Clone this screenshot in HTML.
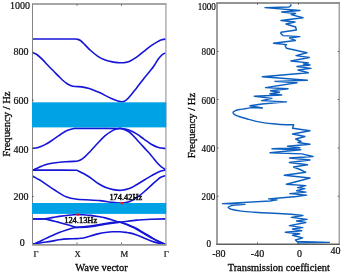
<!DOCTYPE html>
<html><head><meta charset="utf-8"><title>Band structure and transmission</title>
<style>
html,body{margin:0;padding:0;background:#fff;}
body{width:342px;height:275px;overflow:hidden;}
svg{display:block;}
text{font-family:"Liberation Serif","Times New Roman",serif;fill:#0a0a0a;stroke:#0a0a0a;stroke-width:0.18px;}
</style></head><body>
<svg width="342" height="275" viewBox="0 0 342 275">
<rect width="342" height="275" fill="#fff"/>
<g fill="none" stroke="#1515d8" stroke-width="1.6" stroke-linejoin="round">
<path d="M32.5 39.0C36.2 39.0 48.8 39.0 55.0 39.0C61.2 39.0 66.8 39.0 70.0 39.0C73.2 39.0 73.3 39.0 74.5 39.0C75.7 39.1 76.0 39.0 77.0 39.2C78.0 39.5 79.1 39.6 80.4 40.5C81.7 41.4 83.1 42.9 84.8 44.6C86.5 46.3 88.4 48.5 90.6 50.5C92.8 52.5 95.5 54.7 97.9 56.3C100.3 57.9 102.8 59.1 105.2 60.0C107.6 60.9 110.4 61.5 112.5 61.9C114.6 62.3 116.5 62.5 118.0 62.6C119.5 62.7 120.3 62.8 121.5 62.8C122.7 62.7 123.7 62.8 125.0 62.5C126.3 62.3 127.4 62.4 129.3 61.5C131.2 60.6 134.2 58.9 136.6 57.2C139.0 55.5 141.5 53.3 143.9 51.4C146.3 49.5 148.8 47.3 151.2 45.6C153.6 43.9 156.7 42.2 158.5 41.2C160.3 40.2 160.8 40.1 162.0 39.8C163.2 39.4 165.2 39.2 165.9 39.1"/>
<path d="M32.5 52.8C33.2 53.1 35.3 53.5 36.8 54.5C38.3 55.5 39.8 56.9 41.8 58.9C43.8 60.9 46.8 64.2 48.8 66.3C50.8 68.4 52.5 70.0 54.0 71.5C55.5 73.0 56.6 74.2 58.0 75.6C59.4 77.0 60.9 78.7 62.4 80.0C63.9 81.3 65.3 82.5 66.8 83.5C68.3 84.5 69.8 85.2 71.2 85.7C72.7 86.2 73.8 86.3 75.5 86.5C77.2 86.7 79.4 86.6 81.7 86.9C84.0 87.2 87.2 87.9 89.3 88.5C91.3 89.1 92.2 89.6 94.0 90.3C95.8 91.0 97.0 91.4 100.0 92.8C103.0 94.2 108.4 97.3 112.0 98.8C115.6 100.3 119.1 101.7 121.5 101.9C123.9 102.1 124.9 101.0 126.4 99.9C128.0 98.8 129.1 97.2 130.8 95.2C132.5 93.2 134.4 90.7 136.6 87.9C138.8 85.1 141.5 81.5 143.9 78.4C146.3 75.4 149.4 71.8 151.2 69.6C153.0 67.4 153.3 66.8 154.5 65.0C155.7 63.2 157.2 60.5 158.5 58.8C159.8 57.1 160.8 55.9 162.0 54.9C163.2 53.9 165.2 53.1 165.9 52.8"/>
<path d="M32.5 148.3C33.3 148.2 35.3 148.4 37.3 147.8C39.3 147.2 42.2 146.1 44.6 144.9C47.0 143.7 49.5 142.1 51.9 140.5C54.3 138.9 56.8 137.0 59.2 135.4C61.6 133.8 64.0 131.8 66.5 130.7C69.0 129.5 72.2 128.9 73.9 128.5C75.7 128.1 72.7 128.4 77.0 128.4C81.3 128.4 92.6 128.4 100.0 128.4C107.4 128.4 116.6 128.3 121.5 128.6C126.4 128.9 126.8 129.4 129.3 130.3C131.8 131.2 134.2 132.4 136.6 133.9C139.0 135.4 141.5 137.4 143.9 139.1C146.3 140.8 148.8 142.8 151.2 144.2C153.6 145.6 156.1 146.7 158.5 147.4C160.9 148.1 164.7 148.4 165.9 148.6"/>
<path d="M32.5 170.5C33.5 170.0 36.8 168.5 38.8 167.6C40.8 166.7 42.4 165.6 44.6 164.9C46.8 164.2 49.5 163.6 51.9 163.2C54.3 162.8 56.9 162.5 59.2 162.3C61.6 162.0 63.0 161.9 66.0 161.7C69.0 161.5 75.2 161.3 77.0 161.2M77.0 161.2C77.6 161.0 79.1 160.7 80.4 160.0C81.7 159.3 83.1 158.4 84.8 156.9C86.5 155.4 88.4 153.3 90.6 151.0C92.8 148.7 95.5 145.6 97.9 143.0C100.3 140.4 102.8 137.8 105.2 135.7C107.6 133.6 110.3 131.8 112.5 130.6C114.7 129.4 116.9 129.0 118.4 128.6C119.9 128.2 119.7 127.8 121.5 128.4C123.3 129.0 126.8 130.2 129.3 132.0C131.8 133.8 134.2 136.8 136.6 139.4C139.0 142.0 141.5 144.7 143.9 147.4C146.3 150.1 148.9 152.7 151.2 155.4C153.5 158.1 156.0 161.5 157.8 163.5C159.6 165.5 160.7 166.4 162.0 167.4C163.3 168.4 165.2 169.2 165.9 169.6"/>
<path d="M32.5 170.1C36.2 170.1 47.6 170.1 55.0 170.1C62.4 170.1 73.3 170.3 77.0 170.3M77.0 170.3C78.2 170.9 81.6 172.5 84.0 173.8C86.4 175.2 88.9 176.7 91.3 178.4C93.7 180.1 96.2 182.3 98.6 183.8C101.0 185.3 103.5 186.6 105.9 187.6C108.3 188.6 110.6 189.1 113.2 189.6C115.8 190.1 118.8 190.5 121.5 190.3C124.2 190.1 126.8 189.5 129.3 188.6C131.8 187.7 134.2 186.1 136.6 184.7C139.0 183.3 141.5 181.8 143.9 180.3C146.3 178.8 148.8 177.3 151.2 175.9C153.6 174.5 156.1 172.9 158.5 171.9C160.9 170.9 164.7 170.3 165.9 170.0"/>
<path d="M32.5 176.0C33.5 176.6 37.2 178.6 38.8 179.5C40.4 180.4 39.7 180.0 42.3 181.7C44.9 183.5 50.5 187.4 54.6 190.0C58.7 192.6 63.1 195.6 66.8 197.1C70.5 198.6 71.5 198.6 77.0 199.2C82.5 199.8 94.2 200.1 100.0 200.6C105.8 201.1 108.4 202.0 112.0 202.4C115.6 202.8 118.6 203.1 121.5 203.0C124.4 202.9 126.8 202.7 129.3 201.8C131.8 200.9 134.2 199.3 136.6 197.7C139.0 196.1 141.5 194.1 143.9 192.0C146.3 189.9 148.8 187.6 151.2 185.4C153.6 183.2 156.7 180.2 158.5 178.8C160.3 177.4 160.8 177.3 162.0 176.7C163.2 176.2 165.2 175.7 165.9 175.5"/>
<path d="M32.5 219.0C34.5 219.0 41.4 219.0 44.6 218.8C47.8 218.6 49.5 218.0 51.9 217.6C54.3 217.2 56.8 216.8 59.2 216.4C61.6 216.1 64.0 215.8 66.5 215.5C69.0 215.2 72.2 214.9 73.9 214.7C75.7 214.5 75.4 214.5 77.0 214.5C78.6 214.5 81.0 214.7 83.3 214.8C85.6 215.0 88.2 215.1 90.6 215.4C93.0 215.7 95.5 216.1 97.9 216.5C100.3 216.9 102.8 217.3 105.2 217.9C107.6 218.5 110.3 219.3 112.5 220.0C114.7 220.7 116.9 221.6 118.4 222.0C119.9 222.4 119.7 222.0 121.5 222.6C123.3 223.2 126.8 224.3 129.3 225.3C131.8 226.3 134.2 227.2 136.6 228.5C139.0 229.8 141.5 231.5 143.9 232.9C146.3 234.3 148.8 235.8 151.2 237.2C153.6 238.6 156.1 240.1 158.5 241.3C160.9 242.5 164.7 244.0 165.9 244.5"/>
<path d="M32.5 219.0C34.5 219.0 41.4 218.7 44.6 219.0C47.8 219.3 49.5 220.0 51.9 220.6C54.3 221.2 56.8 221.8 59.2 222.4C61.6 223.1 64.0 223.8 66.5 224.5C69.0 225.2 72.2 226.2 73.9 226.7C75.7 227.2 76.5 227.3 77.0 227.4M77.0 227.4C79.3 227.2 85.9 226.7 90.6 226.0C95.3 225.3 100.6 224.2 105.2 223.5C109.8 222.8 115.7 222.1 118.4 221.8C121.1 221.6 118.5 222.3 121.5 222.0C124.5 221.7 131.7 220.6 136.6 220.1C141.5 219.6 146.3 219.4 151.2 219.2C156.1 219.0 163.4 218.9 165.9 218.9"/>
<path d="M32.5 244.3C33.0 244.1 33.8 244.2 35.8 243.3C37.8 242.4 41.9 240.4 44.6 239.1C47.3 237.8 49.5 236.8 51.9 235.7C54.3 234.6 56.8 233.5 59.2 232.5C61.6 231.5 64.0 230.7 66.5 229.9C69.0 229.1 72.2 228.2 73.9 227.8C75.7 227.4 76.5 227.5 77.0 227.4M77.0 227.4C79.3 227.3 85.9 227.1 90.6 226.6C95.3 226.1 100.6 224.9 105.2 224.2C109.8 223.5 115.7 222.7 118.4 222.4C121.1 222.1 119.7 222.0 121.5 222.6C123.3 223.2 126.8 224.7 129.3 225.8C131.8 226.9 134.2 227.9 136.6 229.2C139.0 230.5 141.5 232.2 143.9 233.6C146.3 235.0 148.8 236.5 151.2 237.8C153.6 239.1 156.1 240.5 158.5 241.6C160.9 242.7 164.7 244.0 165.9 244.5"/>
<path d="M32.5 244.3C33.8 244.1 37.0 243.5 40.0 243.0C43.0 242.5 47.3 241.9 50.5 241.4C53.7 240.9 56.3 240.2 59.2 239.8C62.1 239.4 65.0 239.1 68.0 238.9C71.0 238.7 74.5 238.8 77.0 238.6C79.5 238.4 81.0 238.4 83.3 238.0C85.6 237.6 88.2 236.7 90.6 236.0C93.0 235.3 95.5 234.5 97.9 233.9C100.3 233.3 102.8 232.8 105.2 232.5C107.6 232.2 110.0 231.9 112.5 231.8C115.0 231.7 117.7 231.7 119.9 231.8C122.2 231.9 124.4 232.2 126.0 232.4C127.6 232.6 127.5 232.5 129.3 232.9C131.1 233.3 134.2 234.2 136.6 235.0C139.0 235.8 141.5 237.0 143.9 238.0C146.3 239.0 148.8 240.1 151.2 240.9C153.6 241.8 156.1 242.5 158.5 243.1C160.9 243.7 164.7 244.3 165.9 244.5"/>
</g>
<path d="M32.5 245V3.6" fill="none" stroke="#858585" stroke-width="1"/>
<path d="M32 4.05H166.6" fill="none" stroke="#8a8a8a" stroke-width="1.6"/>
<path d="M165.9 4V245" fill="none" stroke="#a8a8a8" stroke-width="1.4"/>
<rect x="32" y="102.3" width="134.2" height="25.1" fill="#00a2e6"/>
<rect x="32" y="203" width="134.2" height="10.9" fill="#00a2e6"/>
<circle cx="77.8" cy="214.6" r="1.35" fill="#ff1010"/>
<circle cx="121.8" cy="203.1" r="1.4" fill="#ff1010"/>
<path d="M32 244.85H166.5" fill="none" stroke="#959595" stroke-width="1.6"/>
<path d="M32.2 52.3h1.5M32.2 100.2h1.5M32.2 148.2h1.5M32.2 196.5h1.5M77 244v-1.5M77 4.3v1.5M121.5 244v-1.5M121.5 4.3v1.5" stroke="#444" stroke-width="0.8" fill="none"/>
<path d="M217 244.5V3" fill="none" stroke="#808080" stroke-width="1.5"/>
<path d="M216.3 2.95H339.9" fill="none" stroke="#707070" stroke-width="1.5"/>
<path d="M339.2 2.3V244.5" fill="none" stroke="#8c8c8c" stroke-width="1.2"/>
<path d="M216.3 244.2H339.8" fill="none" stroke="#606060" stroke-width="1.4"/>
<path d="M217 51.5h1.5M339.2 51.5h-1.5M217 99.5h1.5M339.2 99.5h-1.5M217 148h1.5M339.2 148h-1.5M217 196.3h1.5M339.2 196.3h-1.5M257.5 243.8v-1.5M257.5 3v1.8M298.5 243.8v-1.5M298.5 3v1.8" stroke="#444" stroke-width="0.8" fill="none"/>
<path d="M291.2 4.4L290.5 6.0L289.0 7.0L265.0 7.6L300.0 10.5L281.7 12.0L295.6 13.5L291.2 14.6L303.0 17.8L281.0 20.5L295.0 22.0L286.0 24.0L295.6 27.0L296.4 30.0L281.0 32.2L280.8 33.5L283.0 35.6L299.8 36.6L289.5 38.0L295.4 40.5L273.5 43.2L286.6 44.6L285.0 45.5L286.6 48.3L307.0 52.7L296.0 55.6L309.3 57.5L291.0 61.0L308.5 62.9L303.5 64.0L310.0 65.0L296.9 66.5L311.0 68.4L298.0 70.0L308.3 72.8L262.3 76.7L307.3 80.3L275.0 81.4L297.0 82.8L265.5 87.6L288.0 88.8L270.6 90.8L279.5 92.3L270.0 93.8L281.7 95.0L254.3 96.3L271.9 98.4L261.6 100.6L286.5 101.9L262.0 104.0L249.9 105.7L262.4 108.0L251.0 107.6C250.0 107.8 246.9 108.5 245.0 108.8C243.1 109.1 241.4 109.2 239.7 109.5C238.0 109.8 236.1 110.3 235.0 110.8C233.9 111.3 233.0 111.7 233.0 112.4C233.0 113.1 233.9 114.1 235.0 114.8C236.1 115.5 237.6 116.0 239.7 116.7C241.8 117.4 243.8 118.0 247.5 119.0C251.2 120.0 256.5 121.5 261.6 122.4C266.7 123.3 272.7 123.8 278.0 124.2C283.3 124.6 291.0 124.7 293.6 124.8L292.6 128.3L310.0 130.7L292.6 134.0L304.9 136.5L295.7 139.0L301.0 141.5L298.0 142.5L310.0 144.2L287.5 146.3L299.8 147.7L272.0 148.7L300.8 149.8L270.0 152.8L301.8 153.9L313.0 156.5L289.5 158.0L310.0 160.0L289.4 162.5L307.5 164.8L293.5 167.0L300.0 169.5L305.8 172.3L284.3 175.3L310.0 178.0L300.7 180.5L286.4 184.2L305.8 185.6L297.6 187.6L304.8 188.6L296.6 190.7L305.9 192.1L289.8 193.6L306.6 195.1L296.4 196.5L276.6 198.2L268.6 198.9L277.0 199.9L270.0 201.0L222.5 203.6L245.0 204.4L236.0 205.0C235.2 205.1 232.8 205.2 231.5 205.6C230.2 206.0 228.2 206.6 228.2 207.2C228.1 207.8 229.0 208.5 231.2 209.2C233.4 209.8 237.5 210.6 241.4 211.1C245.3 211.6 250.1 211.9 254.5 212.2C258.9 212.5 261.9 212.7 268.0 213.0C274.1 213.3 287.3 214.0 291.2 214.2L302.9 215.5L291.4 217.4L307.0 219.4L296.6 221.0L305.8 222.5L289.4 225.6L302.7 227.6L292.5 229.0L301.7 230.7L285.3 232.3L299.6 233.8L292.5 235.2L302.7 237.9L295.5 240.0L297.0 241.5L329.3 242.4L297.6 242.9L297.6 243.5" fill="none" stroke="#0d60c0" stroke-width="1.45" stroke-linejoin="round"/>
<g>
<text x="29.9" y="8.75" font-size="10" text-anchor="end" >1000</text>
<text x="28.5" y="54.75" font-size="10" text-anchor="end" >800</text>
<text x="28.5" y="104.15" font-size="10" text-anchor="end" >600</text>
<text x="28.5" y="152.5" font-size="10" text-anchor="end" >400</text>
<text x="28.5" y="200" font-size="10" text-anchor="end" >200</text>
<text x="24.7" y="246.3" font-size="10" text-anchor="end" >0</text>
<text x="215.9" y="10.2" font-size="9.6" text-anchor="end" textLength="18.2" lengthAdjust="spacingAndGlyphs">1000</text>
<text x="215.3" y="54.7" font-size="9.6" text-anchor="end" textLength="13.7" lengthAdjust="spacingAndGlyphs">800</text>
<text x="215.3" y="103.7" font-size="9.6" text-anchor="end" textLength="13.7" lengthAdjust="spacingAndGlyphs">600</text>
<text x="215.3" y="151.6" font-size="9.6" text-anchor="end" textLength="13.7" lengthAdjust="spacingAndGlyphs">400</text>
<text x="215.3" y="199.8" font-size="9.6" text-anchor="end" textLength="13.7" lengthAdjust="spacingAndGlyphs">200</text>
<text x="211" y="247" font-size="9.6" text-anchor="end" textLength="4.6" lengthAdjust="spacingAndGlyphs">0</text>
<text x="36" y="256.5" font-size="8.7" text-anchor="middle" >Γ</text>
<text x="77.6" y="256.5" font-size="8.7" text-anchor="middle" >X</text>
<text x="124.4" y="256.5" font-size="8.7" text-anchor="middle" >M</text>
<text x="166.3" y="256.5" font-size="8.7" text-anchor="middle" >Γ</text>
<text x="218.8" y="256.5" font-size="10" text-anchor="middle" >-80</text>
<text x="257.5" y="256.5" font-size="10" text-anchor="middle" >-40</text>
<text x="299.4" y="256.5" font-size="10" text-anchor="middle" >0</text>
<text x="335.4" y="254.4" font-size="10" text-anchor="middle" >40</text>
<text x="101.5" y="271" font-size="10.5" text-anchor="middle" style="stroke-width:0.32px">Wave vector</text>
<text x="227.7" y="270.5" font-size="10.5" text-anchor="start" textLength="102.2" lengthAdjust="spacingAndGlyphs" style="stroke-width:0.32px">Transmission coefficient</text>
<text x="0" y="0" font-size="10.6" text-anchor="middle" transform="translate(10.2 124.1) rotate(-90)" style="stroke-width:0.32px">Frequency / Hz</text>
<text x="0" y="0" font-size="10.6" text-anchor="middle" transform="translate(195 125.5) rotate(-90)" style="stroke-width:0.32px">Frequency / Hz</text>
<text x="64.2" y="222.7" font-size="8" text-anchor="start" style="stroke-width:0.45px" textLength="33" lengthAdjust="spacingAndGlyphs">124.13Hz</text>
<text x="109.4" y="200.3" font-size="8" text-anchor="start" style="stroke-width:0.45px" textLength="32.8" lengthAdjust="spacingAndGlyphs">174.42Hz</text>
</g>
</svg>
</body></html>
